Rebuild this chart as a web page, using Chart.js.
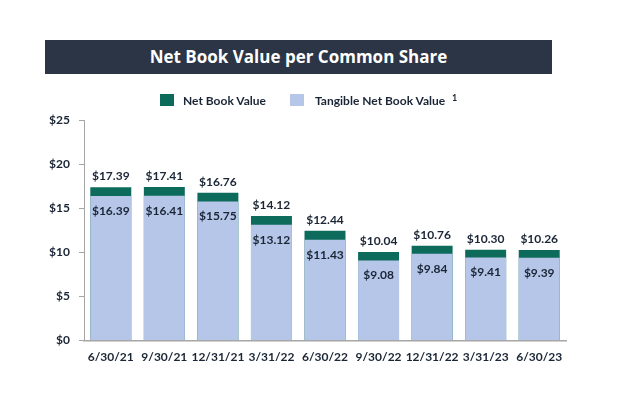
<!DOCTYPE html>
<html>
<head>
<meta charset="utf-8">
<script src="https://cdn.jsdelivr.net/npm/chart.js@4"></script>
<style>
  html, body { margin: 0; padding: 0; background: #ffffff; }
  #wrap { position: relative; width: 640px; height: 418px; overflow: hidden; }
  #title { position: absolute; left: 45px; top: 40px; width: 507px; height: 34px; background: #2b3545;
           color: #ffffff; font: bold 17px "Open Sans", sans-serif; text-align: center; line-height: 34px; z-index: 2; }
  #legend { position: absolute; left: 0; top: 93px; width: 640px; height: 16px; z-index: 2;
            font: bold 12px Lato, sans-serif; color: #1a2535; }
  .sw { position: absolute; top: 1px; width: 14px; height: 12px; }
  .lt { position: absolute; top: 0px; line-height: 15px; white-space: nowrap; }
  sup { font-size: 9px; position: relative; top: -4px; vertical-align: baseline; }
  canvas { position: absolute; left: 0; top: 0; z-index: 1; }
</style>
</head>
<body>
<div id="wrap">
  <div id="title">Net Book Value per Common Share</div>
  <div id="legend">
    <div class="sw" style="left:160px;background:#0d6b5c"></div>
    <div class="lt" style="left:183px">Net Book Value</div>
    <div class="sw" style="left:290px;background:#b6c6e8"></div>
    <div class="lt" style="left:315px">Tangible Net Book Value <sup style="margin-left:4px">1</sup></div>
  </div>
  <canvas id="c" width="640" height="418"></canvas>
</div>
<script>
const categories = ["6/30/21", "9/30/21", "12/31/21", "3/31/22", "6/30/22", "9/30/22", "12/31/22", "3/31/23", "6/30/23"];
const netBookValue = [17.39, 17.41, 16.76, 14.12, 12.44, 10.04, 10.76, 10.30, 10.26];
const tangibleNetBookValue = [16.39, 16.41, 15.75, 13.12, 11.43, 9.08, 9.84, 9.41, 9.39];
const yTicks = [0, 5, 10, 15, 20, 25];

const textColor = '#1a2535';
const labelFont = 'bold 12px Lato, sans-serif';

const labelPlugin = {
  id: 'barLabels',
  afterDatasetsDraw(chart) {
    const ctx = chart.ctx;
    const nbvMeta = chart.getDatasetMeta(1);
    const tbvMeta = chart.getDatasetMeta(0);
    ctx.save();
    ctx.font = labelFont;
    ctx.fillStyle = textColor;
    ctx.textAlign = 'center';
    ctx.textBaseline = 'middle';
    nbvMeta.data.forEach((bar, i) => {
      ctx.fillText('$' + netBookValue[i].toFixed(2), bar.x, bar.y - 11);
    });
    tbvMeta.data.forEach((bar, i) => {
      ctx.fillText('$' + tangibleNetBookValue[i].toFixed(2), bar.x, bar.y + 15);
    });
    ctx.restore();
  }
};

new Chart(document.getElementById('c'), {
  type: 'bar',
  data: {
    labels: categories,
    datasets: [
      { label: 'Tangible Net Book Value', data: tangibleNetBookValue, backgroundColor: '#b6c6e8', borderWidth: 0 },
      { label: 'Net Book Value', data: netBookValue, backgroundColor: '#0d6b5c', borderWidth: 0 }
    ]
  },
  options: {
    responsive: false,
    animation: false,
    layout: { padding: { top: 120, bottom: 45, left: 0, right: 74 } },
    plugins: { legend: { display: false }, tooltip: { enabled: false } },
    datasets: { bar: { categoryPercentage: 1, barPercentage: 0.765 } },
    scales: {
      x: {
        stacked: true,
        grid: { display: false, drawTicks: false },
        border: { display: true, color: '#a6a6a6', width: 1.5 },
        ticks: { color: textColor, font: { family: 'Lato', weight: 'bold', size: 12 }, padding: 9, maxRotation: 0, autoSkip: false }
      },
      y: {
        stacked: false,
        min: 0, max: 25,
        afterBuildTicks(scale) { scale.ticks = yTicks.map(v => ({ value: v })); },
        afterFit(scale) { scale.width = 84; },
        grid: { drawOnChartArea: false, drawTicks: true, tickLength: 5, color: '#a6a6a6', lineWidth: 1 },
        border: { display: true, color: '#a6a6a6', width: 1 },
        ticks: { color: textColor, font: { family: 'Lato', weight: 'bold', size: 12 }, padding: 9,
                 callback: v => '$' + v }
      }
    }
  },
  plugins: [labelPlugin]
});
</script>
</body>
</html>
